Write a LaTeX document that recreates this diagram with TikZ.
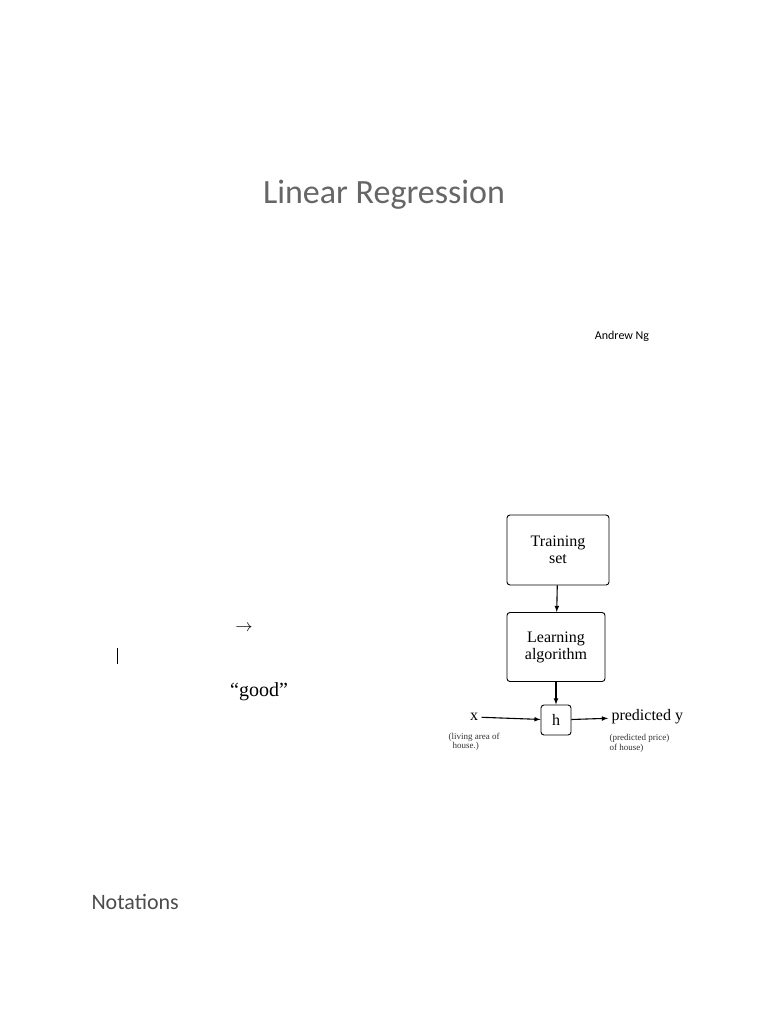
\documentclass[tikz,border=0pt]{standalone}
\usepackage{fontspec}
\setmainfont{Liberation Serif}
\newfontfamily\calib{Carlito}
\begin{document}
\begin{tikzpicture}[x=1pt,y=-1pt,
  blk/.style={draw,rounded corners=3pt,line width=0.9pt,align=center,font=\fontsize{16}{17}\selectfont,inner sep=0pt},
  sub/.style={font=\fontsize{9}{9.5}\selectfont,align=left,text=black!80},
  arr/.style={-latex,line width=1.1pt}]
\useasboundingbox (0,0) rectangle (768,1024);
\node[font=\calib\fontsize{34}{36}\selectfont,text=black!60] (title) at (384,195) {Linear Regression};
\node[font=\calib\fontsize{12}{14}\selectfont] (author) at (622,336) {Andrew Ng};
\node[font=\calib\fontsize{22}{24}\selectfont,text=black!70,anchor=west] (not) at (88,902) {Notations};
\node[font=\fontsize{18}{20}\selectfont] (rarr) at (244,628) {$\rightarrow$};
\draw[line width=0.8pt] (117,648) -- (117,664);
\node[font=\fontsize{20}{22}\selectfont] (good) at (259,692) {``good''};
\node[blk,minimum width=102,minimum height=70] (ts) at (558,550) {Training\\set};
\node[blk,minimum width=98,minimum height=69] (la) at (556,647) {Learning\\algorithm};
\node[blk,minimum width=30,minimum height=30] (h) at (556,720) {h};
\node[font=\fontsize{16}{17}\selectfont] (x) at (474,717) {x};
\node[font=\fontsize{16}{17}\selectfont,anchor=west] (py) at (608,717) {predicted y};
\node[sub] (xs) at (474,742) {(living area of\\\hspace*{4pt}house.)};
\node[sub,anchor=north west] (pys) at (606,731) {(predicted price)\\of house)};
\draw[arr] (ts) -- (la);
\draw[arr] (la) -- (h);
\draw[arr] (x) -- (h);
\draw[arr] (h) -- (py);
\end{tikzpicture}
\end{document}
